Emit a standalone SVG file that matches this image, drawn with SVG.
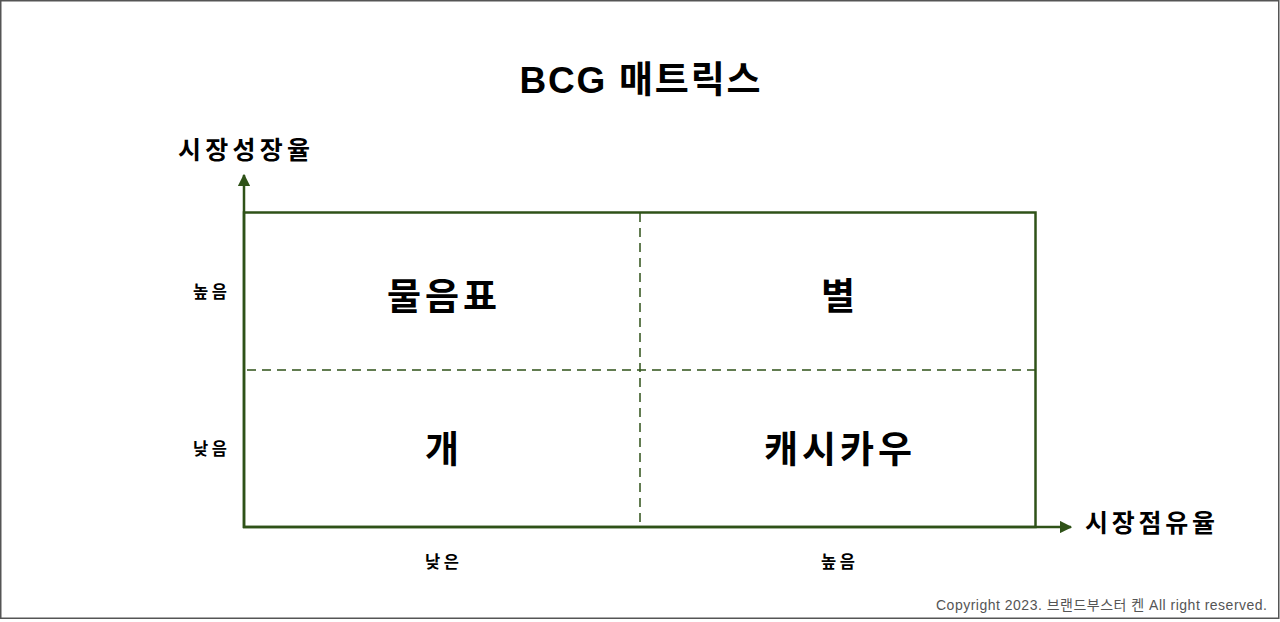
<svg xmlns="http://www.w3.org/2000/svg" width="1280" height="622" viewBox="0 0 1280 622">
<style>
text{font-family:"Liberation Sans","Noto Sans CJK KR",sans-serif;fill:#000;}
.b{font-weight:bold;}
.q{font-size:37px;font-weight:bold;text-anchor:middle;}
.s{font-size:16.5px;font-weight:bold;text-anchor:middle;}
.ax{font-size:25px;font-weight:bold;}
.ln{stroke:#2f5218;stroke-width:2.5;fill:none;}
.d{stroke:#2f5218;stroke-width:1.5;stroke-dasharray:9,6;fill:none;}
</style>
<defs>
<marker id="ah" viewBox="0 0 10 10" refX="9" refY="5" markerWidth="5" markerHeight="5" orient="auto" markerUnits="strokeWidth">
<path d="M0,0 L10,5 L0,10 z" fill="#2f5218"/>
</marker>
</defs>
<rect x="0.75" y="0.75" width="1278" height="617.5" fill="#fff" stroke="#555" stroke-width="1.5"/>
<text x="640" y="93" class="b" font-size="37" text-anchor="middle" textLength="241" lengthAdjust="spacing">BCG 매트릭스</text>
<g id="connectors">
<line class="ln" x1="244" y1="528" x2="244" y2="175" marker-end="url(#ah)"/>
<line class="ln" x1="243" y1="527" x2="1071" y2="527" marker-end="url(#ah)"/>
<line class="d" x1="640" y1="213" x2="640" y2="527"/>
<line class="d" x1="247" y1="370" x2="1035" y2="370"/>
</g>
<g id="matrix">
<rect class="ln" x="244" y="212.5" width="791.5" height="314.5"/>
</g>
<g id="axis-y"><text class="ax" x="178" y="159" textLength="132" lengthAdjust="spacing">시장성장율</text></g>
<g id="axis-x"><text class="ax" x="1085" y="532" textLength="130" lengthAdjust="spacing">시장점유율</text></g>
<g id="label-y-high"><text class="s" x="210" y="298" textLength="34" lengthAdjust="spacing">높음</text></g>
<g id="label-y-low"><text class="s" x="210" y="455" textLength="34" lengthAdjust="spacing">낮음</text></g>
<g id="label-x-low"><text class="s" x="442" y="568" textLength="34" lengthAdjust="spacing">낮은</text></g>
<g id="label-x-high"><text class="s" x="838" y="568" textLength="34" lengthAdjust="spacing">높음</text></g>
<g id="q-question"><text class="q" x="442" y="310" textLength="110" lengthAdjust="spacing">물음표</text></g>
<g id="q-star"><text class="q" x="838" y="310">별</text></g>
<g id="q-dog"><text class="q" x="442" y="463">개</text></g>
<g id="q-cash"><text class="q" x="838" y="463" textLength="148" lengthAdjust="spacing">캐시카우</text></g>
<text x="1267" y="610" font-size="14" text-anchor="end" style="fill:#555" textLength="331" lengthAdjust="spacing">Copyright 2023. 브랜드부스터 켄 All right reserved.</text>
</svg>
